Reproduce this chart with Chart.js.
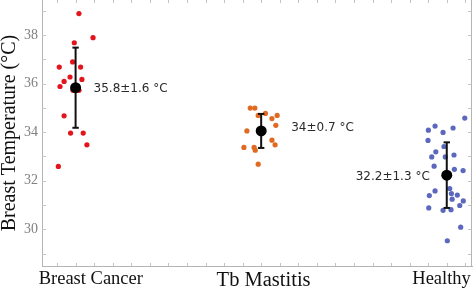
<!DOCTYPE html>
<html>
<head>
<meta charset="utf-8">
<script src="https://cdn.jsdelivr.net/npm/chart.js@4/dist/chart.umd.min.js"></script>
<style>
  html, body { margin: 0; padding: 0; background: #fff; }
  canvas { display: block; }
</style>
</head>
<body>
<canvas id="chart" width="474" height="308"></canvas>
<script>
// groups on the x axis (1, 2, 3)
const groups = ['Breast Cancer', 'Tb Mastitis', 'Healthy'];

// individual measurements: x = group + jitter, y = temperature (°C)
const cancerX = [1.018, 1.094, 0.993, 0.984, 0.912, 1.027, 0.970, 1.034, 0.938, 0.916, 0.986, 1.018, 0.938, 0.973, 1.041, 1.061, 0.907];
const cancerY = [38.88, 37.89, 37.68, 36.89, 36.68, 36.68, 36.27, 36.17, 36.09, 35.88, 35.72, 35.72, 34.67, 33.96, 33.96, 33.48, 32.59];

const mastitisX = [1.941, 1.966, 1.984, 2.023, 2.058, 2.086, 2.079, 1.923, 2.058, 2.075, 1.907, 1.962, 1.968, 1.984];
const mastitisY = [34.99, 34.99, 34.69, 34.77, 34.56, 34.69, 34.28, 34.05, 33.67, 33.48, 33.37, 33.37, 33.26, 32.68];

const healthyX = [3.097, 2.937, 2.901, 2.980, 3.034, 2.899, 2.985, 2.941, 3.039, 2.919, 2.992, 2.932, 3.041, 3.088, 3.016, 2.937, 2.906, 3.025, 3.057, 3.029, 3.089, 3.070, 2.903, 2.980, 3.023, 3.075, 3.003];
const healthyY = [34.58, 34.25, 34.08, 33.99, 34.17, 33.66, 33.41, 33.19, 33.06, 32.98, 32.98, 32.60, 32.47, 32.42, 31.68, 31.58, 31.39, 31.47, 31.41, 31.24, 31.17, 30.98, 30.88, 30.78, 30.81, 30.09, 29.53];

// summary per group
const means = [35.83, 34.05, 32.23];
const sds = [1.65, 0.70, 1.35];
const meanLabels = ['35.8±1.6 °C', '34±0.7 °C', '32.2±1.3 °C'];

const yTicks = [29, 30, 31, 32, 33, 34, 35, 36, 37, 38, 39];
const yLabelled = [30, 32, 34, 36, 38];

// where the group names sit along the x axis (not exactly under the groups)
const groupLabelAt = [1.082, 2.013, 2.972];

function pts(xs, ys) {
    return xs.map((x, i) => ({ x: x, y: ys[i] }));
}

const errData = [];
means.forEach((m, i) => {
    errData.push({ x: i + 1, y: m - sds[i] });
    errData.push({ x: i + 1, y: m + sds[i] });
    errData.push({ x: i + 1, y: NaN });
});

// short inward tick marks + right frame line
const frameTicks = {
    id: 'frameTicks',
    beforeDatasetsDraw(chart) {
        const { ctx, chartArea: a, scales: { x, y } } = chart;
        ctx.save();
        ctx.strokeStyle = '#c4c4c4';
        ctx.lineWidth = 1;
        ctx.beginPath();
        yTicks.forEach(v => {
            const py = Math.round(y.getPixelForValue(v)) + 0.5;
            ctx.moveTo(a.left, py); ctx.lineTo(a.left + 4, py);
            ctx.moveTo(a.right, py); ctx.lineTo(a.right - 4, py);
        });
        for (let k = 9; k <= 31; k++) {
            const px = Math.round(x.getPixelForValue(k / 10)) + 0.5;
            ctx.moveTo(px, a.bottom); ctx.lineTo(px, a.bottom - 3);
            ctx.moveTo(px, a.top); ctx.lineTo(px, a.top + 3);
        }
        ctx.stroke();
        ctx.strokeStyle = '#b4b4b4';
        ctx.beginPath();
        ctx.moveTo(Math.round(a.right) - 0.5, a.top);
        ctx.lineTo(Math.round(a.right) - 0.5, a.bottom);
        ctx.stroke();
        ctx.restore();
    }
};

// mean ± sd text next to each group
const meanText = {
    id: 'meanText',
    afterDatasetsDraw(chart) {
        const { ctx, scales: { x, y } } = chart;
        const offs = [[18, 1, 'left'], [30, -3, 'left'], [-17, 2, 'right']];
        ctx.save();
        ctx.font = '12px "DejaVu Sans", sans-serif';
        ctx.fillStyle = '#2a2a2a';
        ctx.textBaseline = 'middle';
        means.forEach((m, i) => {
            ctx.textAlign = offs[i][2];
            ctx.fillText(meanLabels[i], x.getPixelForValue(i + 1) + offs[i][0], y.getPixelForValue(m) + offs[i][1]);
        });
        ctx.restore();
    }
};

new Chart(document.getElementById('chart'), {
    type: 'scatter',
    data: {
        datasets: [
            { label: groups[0], data: pts(cancerX, cancerY), backgroundColor: '#e3141c', borderWidth: 0, pointRadius: 2.6, order: 5 },
            { label: groups[1], data: pts(mastitisX, mastitisY), backgroundColor: '#e06a22', borderWidth: 0, pointRadius: 2.6, order: 4 },
            { label: groups[2], data: pts(healthyX, healthyY), backgroundColor: '#5b68bd', borderWidth: 0, pointRadius: 2.6, order: 3 },
            {
                label: 'sd', data: errData, showLine: true, spanGaps: false,
                borderColor: '#111', borderWidth: 2, pointStyle: 'line',
                pointRadius: 3.2, pointBorderColor: '#111', pointBorderWidth: 2, order: 2
            },
            {
                label: 'mean', data: means.map((m, i) => ({ x: i + 1, y: m })),
                backgroundColor: '#000', borderWidth: 0, pointRadius: 5.5, order: 1
            }
        ]
    },
    options: {
        responsive: false,
        animation: false,
        devicePixelRatio: 1,
        layout: { autoPadding: false, padding: { top: 0, right: 2, left: 0, bottom: 0 } },
        plugins: { legend: { display: false }, tooltip: { enabled: false } },
        scales: {
            x: {
                type: 'linear',
                min: 0.819,
                max: 3.136,
                afterBuildTicks: s => {
                    s.ticks = [0.85].concat(groupLabelAt, [3.12]).map(v => ({ value: v }));
                },
                afterFit: s => {
                    s.height = 42;
                    s.paddingLeft = 0;
                    s.paddingRight = 0;
                },
                grid: { display: false, drawTicks: false },
                border: { display: true, color: '#b4b4b4' },
                ticks: {
                    autoSkip: false,
                    maxRotation: 0,
                    padding: 2,
                    color: '#111',
                    font: c => ({
                        family: '"Liberation Serif", serif',
                        size: (c.tick && c.tick.label === groups[1]) ? 20.5 : 18.5
                    }),
                    callback: (v, i) => (i >= 1 && i <= 3) ? groups[i - 1] : null
                }
            },
            y: {
                type: 'linear',
                min: 28.49,
                max: 39.44,
                afterBuildTicks: s => { s.ticks = yTicks.map(v => ({ value: v })); },
                afterFit: s => {
                    s.width = 42;
                    s.paddingTop = 0;
                    s.paddingBottom = 0;
                },
                grid: { display: false, drawTicks: false },
                border: { display: true, color: '#b4b4b4' },
                title: {
                    display: true,
                    text: 'Breast Temperature (°C)',
                    color: '#111',
                    padding: { top: -2, bottom: 0 },
                    font: { family: '"Liberation Serif", serif', size: 20 }
                },
                ticks: {
                    padding: 4,
                    color: '#808080',
                    font: { family: '"Liberation Serif", serif', size: 14 },
                    callback: v => yLabelled.includes(v) ? String(v) : null
                }
            }
        }
    },
    plugins: [frameTicks, meanText]
});
</script>
</body>
</html>
